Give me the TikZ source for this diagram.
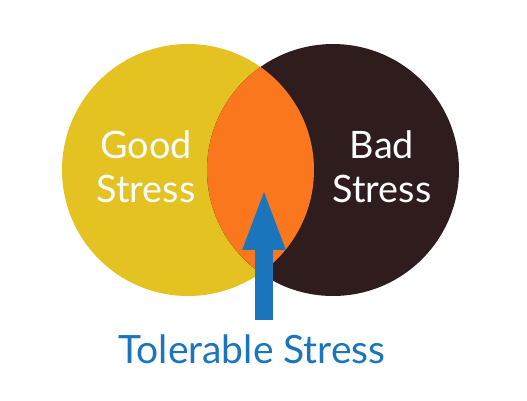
\documentclass[tikz,border=0pt]{standalone}
\usepackage{fontspec}
\setmainfont{Lato}
\usetikzlibrary{arrows.meta}
\definecolor{goodyellow}{HTML}{E3C222}
\definecolor{badbrown}{HTML}{2F1D1D}
\definecolor{midorange}{HTML}{FB771E}
\definecolor{tolblue}{HTML}{1B75BC}
\begin{document}
\begin{tikzpicture}[x=0.02cm,y=-0.02cm,
  blob/.style={circle,minimum size=5.04cm,inner sep=0pt},
  word/.style={text=white,align=center,inner sep=0pt,font=\fontsize{21.5}{25}\selectfont}]
  \useasboundingbox (0,0) rectangle (527,400);
  % circles
  \node[blob,fill=goodyellow] (good) at (188,170) {};
  \node[blob,fill=badbrown] (bad) at (333,170) {};
  % overlap
  \begin{scope}
    \clip (good.center) circle (2.52cm);
    \fill[midorange] (bad.center) circle (2.52cm);
  \end{scope}
  % labels
  \node[word] (goodlbl) at (146,167) {Good\\Stress};
  \node[word] (badlbl) at (382,167) {Bad\\Stress};
  \node[text=tolblue,anchor=base,font=\fontsize{22.2}{26}\selectfont] (tol) at (252,363) {Tolerable Stress};
  % arrow
  \coordinate (tail) at (264,320);
  \coordinate (tip) at (264,187);
  \draw[tolblue,line width=0.36cm,-{Triangle[width=0.76cm,length=1.26cm]}] (tail) -- (tip);
\end{tikzpicture}
\end{document}
